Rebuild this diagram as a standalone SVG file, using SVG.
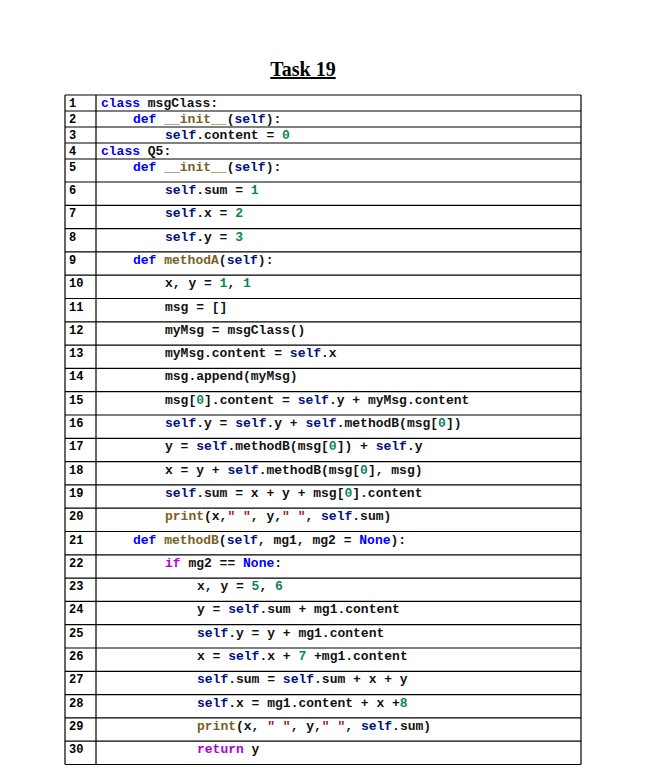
<svg xmlns="http://www.w3.org/2000/svg" width="666" height="782" viewBox="0 0 666 782">
<style>
.c{font-family:"Liberation Mono","Courier New",monospace;font-size:13px;font-weight:bold;fill:#111}
.num{font-family:"Liberation Mono",monospace;font-size:12px;font-weight:bold;fill:#000}
.k{fill:#0000ff}.s{fill:#001080}.n{fill:#098658}.f{fill:#795e26}.p{fill:#af00db}.t{fill:#a31515}
.g line{stroke:#000;stroke-width:1.2}
</style>
<rect width="666" height="782" fill="#fff"/>
<text x="303" y="76" text-anchor="middle" font-family="Liberation Serif,serif" font-size="20" font-weight="bold" text-decoration="underline">Task 19</text>
<g id="grid" class="g">
<line x1="65" y1="95" x2="581" y2="95"/><line x1="65" y1="111" x2="581" y2="111"/><line x1="65" y1="127" x2="581" y2="127"/><line x1="65" y1="143" x2="581" y2="143"/><line x1="65" y1="159" x2="581" y2="159"/><line x1="65" y1="182" x2="581" y2="182"/>
<line x1="65" y1="205.3" x2="581" y2="205.3"/><line x1="65" y1="228.6" x2="581" y2="228.6"/><line x1="65" y1="251.9" x2="581" y2="251.9"/><line x1="65" y1="275.2" x2="581" y2="275.2"/><line x1="65" y1="298.5" x2="581" y2="298.5"/><line x1="65" y1="321.8" x2="581" y2="321.8"/><line x1="65" y1="345.1" x2="581" y2="345.1"/><line x1="65" y1="368.4" x2="581" y2="368.4"/><line x1="65" y1="391.7" x2="581" y2="391.7"/><line x1="65" y1="415" x2="581" y2="415"/><line x1="65" y1="438.3" x2="581" y2="438.3"/><line x1="65" y1="461.6" x2="581" y2="461.6"/><line x1="65" y1="484.9" x2="581" y2="484.9"/><line x1="65" y1="508.2" x2="581" y2="508.2"/><line x1="65" y1="531.5" x2="581" y2="531.5"/><line x1="65" y1="554.8" x2="581" y2="554.8"/><line x1="65" y1="578.1" x2="581" y2="578.1"/><line x1="65" y1="601.4" x2="581" y2="601.4"/><line x1="65" y1="624.7" x2="581" y2="624.7"/><line x1="65" y1="648" x2="581" y2="648"/><line x1="65" y1="671.3" x2="581" y2="671.3"/><line x1="65" y1="694.6" x2="581" y2="694.6"/><line x1="65" y1="717.9" x2="581" y2="717.9"/><line x1="65" y1="741.2" x2="581" y2="741.2"/><line x1="65" y1="764.5" x2="581" y2="764.5"/>
<line x1="65" y1="95" x2="65" y2="764.5"/><line x1="96" y1="95" x2="96" y2="764.5"/><line x1="581" y1="95" x2="581" y2="764.5"/>
</g>
<g id="numbers" class="num">
<text x="69" y="107">1</text><text x="69" y="123">2</text><text x="69" y="139">3</text><text x="69" y="155">4</text><text x="69" y="171">5</text>
<text x="69" y="194">6</text><text x="69" y="217.3">7</text><text x="69" y="240.6">8</text><text x="69" y="263.9">9</text><text x="69" y="287.2">10</text><text x="69" y="310.5">11</text><text x="69" y="333.8">12</text><text x="69" y="357.1">13</text><text x="69" y="380.4">14</text><text x="69" y="403.7">15</text><text x="69" y="427">16</text><text x="69" y="450.3">17</text><text x="69" y="473.6">18</text><text x="69" y="496.9">19</text><text x="69" y="520.2">20</text><text x="69" y="543.5">21</text><text x="69" y="566.8">22</text><text x="69" y="590.1">23</text><text x="69" y="613.4">24</text><text x="69" y="636.7">25</text><text x="69" y="660">26</text><text x="69" y="683.3">27</text><text x="69" y="706.6">28</text><text x="69" y="729.9">29</text><text x="69" y="753.2">30</text>
</g>
<g id="code" class="c" xml:space="preserve">
<text x="101" y="107"><tspan class="k">class</tspan> msgClass:</text>
<text x="133" y="123"><tspan class="k">def</tspan> <tspan class="f">__init__</tspan>(<tspan class="s">self</tspan>):</text>
<text x="165" y="139"><tspan class="s">self</tspan>.content = <tspan class="n">0</tspan></text>
<text x="101" y="155"><tspan class="k">class</tspan> Q5:</text>
<text x="133" y="171"><tspan class="k">def</tspan> <tspan class="f">__init__</tspan>(<tspan class="s">self</tspan>):</text>
<text x="165" y="194"><tspan class="s">self</tspan>.sum = <tspan class="n">1</tspan></text>
<text x="165" y="217.3"><tspan class="s">self</tspan>.x = <tspan class="n">2</tspan></text>
<text x="165" y="240.6"><tspan class="s">self</tspan>.y = <tspan class="n">3</tspan></text>
<text x="133" y="263.9"><tspan class="k">def</tspan> <tspan class="f">methodA</tspan>(<tspan class="s">self</tspan>):</text>
<text x="165" y="287.2">x, y = <tspan class="n">1</tspan>, <tspan class="n">1</tspan></text>
<text x="165" y="310.5">msg = []</text>
<text x="165" y="333.8">myMsg = msgClass()</text>
<text x="165" y="357.1">myMsg.content = <tspan class="s">self</tspan>.x</text>
<text x="165" y="380.4">msg.append(myMsg)</text>
<text x="165" y="403.7">msg[<tspan class="n">0</tspan>].content = <tspan class="s">self</tspan>.y + myMsg.content</text>
<text x="165" y="427"><tspan class="s">self</tspan>.y = <tspan class="s">self</tspan>.y + <tspan class="s">self</tspan>.methodB(msg[<tspan class="n">0</tspan>])</text>
<text x="165" y="450.3">y = <tspan class="s">self</tspan>.methodB(msg[<tspan class="n">0</tspan>]) + <tspan class="s">self</tspan>.y</text>
<text x="165" y="473.6">x = y + <tspan class="s">self</tspan>.methodB(msg[<tspan class="n">0</tspan>], msg)</text>
<text x="165" y="496.9"><tspan class="s">self</tspan>.sum = x + y + msg[<tspan class="n">0</tspan>].content</text>
<text x="165" y="520.2"><tspan class="f">print</tspan>(x,<tspan class="t">" "</tspan>, y,<tspan class="t">" "</tspan>, <tspan class="s">self</tspan>.sum)</text>
<text x="133" y="543.5"><tspan class="k">def</tspan> <tspan class="f">methodB</tspan>(<tspan class="s">self</tspan>, mg1, mg2 = <tspan class="k">None</tspan>):</text>
<text x="165" y="566.8"><tspan class="p">if</tspan> mg2 == <tspan class="k">None</tspan>:</text>
<text x="197" y="590.1">x, y = <tspan class="n">5</tspan>, <tspan class="n">6</tspan></text>
<text x="197" y="613.4">y = <tspan class="s">self</tspan>.sum + mg1.content</text>
<text x="197" y="636.7"><tspan class="s">self</tspan>.y = y + mg1.content</text>
<text x="197" y="660">x = <tspan class="s">self</tspan>.x + <tspan class="n">7</tspan> +mg1.content</text>
<text x="197" y="683.3"><tspan class="s">self</tspan>.sum = <tspan class="s">self</tspan>.sum + x + y</text>
<text x="197" y="706.6"><tspan class="s">self</tspan>.x = mg1.content + x +<tspan class="n">8</tspan></text>
<text x="197" y="729.9"><tspan class="f">print</tspan>(x, <tspan class="t">" "</tspan>, y,<tspan class="t">" "</tspan>, <tspan class="s">self</tspan>.sum)</text>
<text x="197" y="753.2"><tspan class="p">return</tspan> y</text>
</g>
</svg>
